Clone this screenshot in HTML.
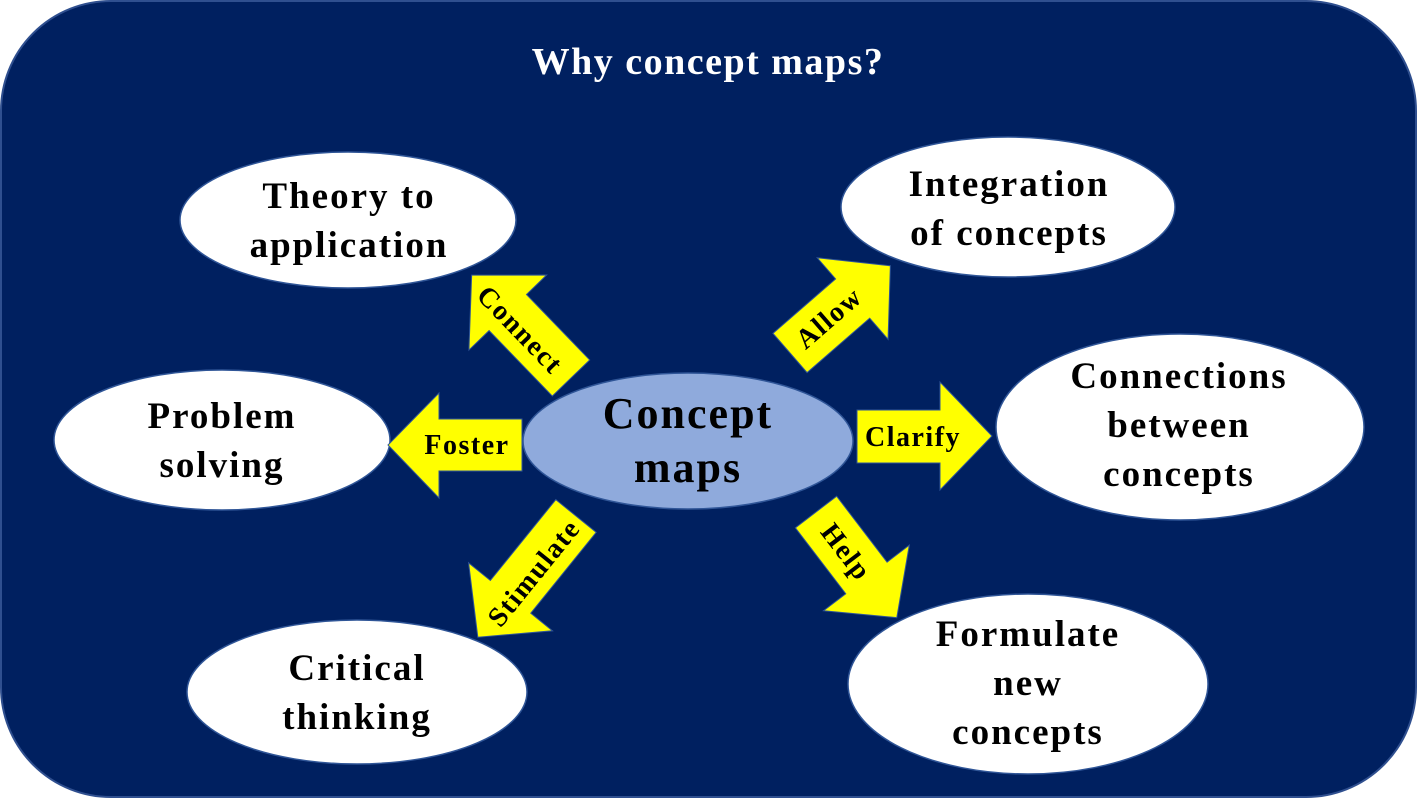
<!DOCTYPE html>
<html><head><meta charset="utf-8"><style>
html,body{margin:0;padding:0;background:#fff;}
svg{display:block;}
text{font-family:"Liberation Serif",serif;font-weight:bold;}
</style></head><body>
<svg width="1417" height="798" viewBox="0 0 1417 798">
<rect x="1" y="1" width="1415" height="796" rx="110" ry="110" fill="#002060" stroke="#2f4f8f" stroke-width="2"/>
<text x="708" y="74" font-size="38" fill="#fff" text-anchor="middle" letter-spacing="1.5">Why concept maps?</text>

<g fill="#fff" stroke="#2f5597" stroke-width="1.5">
<ellipse cx="348" cy="220" rx="168" ry="68"/>
<ellipse cx="1008" cy="207" rx="167" ry="70"/>
<ellipse cx="1180" cy="427" rx="184" ry="93"/>
<ellipse cx="222" cy="440" rx="168" ry="70"/>
<ellipse cx="357" cy="692" rx="170" ry="72"/>
<ellipse cx="1028" cy="684" rx="180" ry="90"/>
</g>
<ellipse cx="688" cy="441" rx="165" ry="68" fill="#8faadc" stroke="#2f5597" stroke-width="1.5"/>

<g fill="#ffff00" stroke="#2f5597" stroke-width="1">
<polygon points="522,419 522,471 439,471 439,498 388,445 439,393 439,419"/>
<polygon points="857,410 857,463 940,463 940,490 992,436 940,382 940,410"/>
<g transform="translate(571,378) rotate(-134)"><polygon points="0,-26 91,-26 91,-54 143,0 91,54 91,26 0,26"/></g>
<g transform="translate(576,516) rotate(129)"><polygon points="0,-26 104,-26 104,-54 156,0 104,54 104,26 0,26"/></g>
<g transform="translate(790,353) rotate(-41)"><polygon points="0,-26 83,-26 83,-54 133,0 83,54 83,26 0,26"/></g>
<g transform="translate(816,512) rotate(52.6)"><polygon points="0,-26 83,-26 83,-54 133,0 83,54 83,26 0,26"/></g>
</g>

<g font-size="28" fill="#000" text-anchor="middle" letter-spacing="1.5">
<text x="467" y="454">Foster</text>
<text x="913" y="446">Clarify</text>
<text transform="translate(520,330) rotate(46)" x="0" y="9">Connect</text>
<text transform="translate(534,573) rotate(-51)" x="0" y="9">Stimulate</text>
<text transform="translate(829,318) rotate(-41)" x="0" y="9">Allow</text>
<text transform="translate(846,552) rotate(52.6)" x="0" y="9">Help</text>
</g>

<g font-size="37" fill="#000" text-anchor="middle" letter-spacing="2">
<text x="349" y="208">Theory to</text>
<text x="349" y="257">application</text>
<text x="1009" y="196">Integration</text>
<text x="1009" y="245">of  concepts</text>
<text x="1179" y="388">Connections</text>
<text x="1179" y="437">between</text>
<text x="1179" y="486">concepts</text>
<text x="222" y="428">Problem</text>
<text x="222" y="477">solving</text>
<text x="357" y="680">Critical</text>
<text x="357" y="729">thinking</text>
<text x="1028" y="646">Formulate</text>
<text x="1028" y="695">new</text>
<text x="1028" y="744">concepts</text>
</g>
<g font-size="44" fill="#000" text-anchor="middle" letter-spacing="2">
<text x="688" y="428">Concept</text>
<text x="688" y="482">maps</text>
</g>
</svg>
</body></html>
